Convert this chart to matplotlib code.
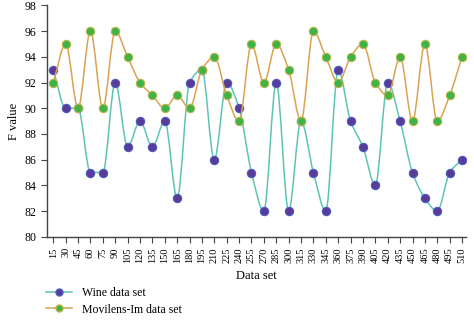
import matplotlib
matplotlib.use("Agg")
import matplotlib.pyplot as plt
from matplotlib.path import Path
from matplotlib.patches import PathPatch
from matplotlib.lines import Line2D
import numpy as np

plt.rcParams['font.family'] = ['Liberation Serif', 'DejaVu Serif']

data_sets = [15, 30, 45, 60, 75, 90, 105, 120, 135, 150, 165, 180, 195, 210, 225, 240, 255,
             270, 285, 300, 315, 330, 345, 360, 375, 390, 405, 420, 435, 450, 465, 480, 495, 510]
wine = [93, 90, 90, 85, 85, 92, 87, 89, 87, 89, 83, 92, 93, 86, 92, 90, 85,
        82, 92, 82, 89, 85, 82, 93, 89, 87, 84, 92, 89, 85, 83, 82, 85, 86]
movilens = [92, 95, 90, 96, 90, 96, 94, 92, 91, 90, 91, 90, 93, 94, 91, 89, 95,
            92, 95, 93, 89, 96, 94, 92, 94, 95, 92, 91, 94, 89, 95, 89, 91, 94]


def smooth_path(x, y):
    # monotone cubic (fritsch-carlson) drawn as bezier segments
    x = np.asarray(x, float)
    y = np.asarray(y, float)
    h = np.diff(x)
    d = np.diff(y) / h
    m = np.zeros_like(y)
    m[0], m[-1] = d[0], d[-1]
    for i in range(1, len(x) - 1):
        if d[i - 1] * d[i] > 0:
            m[i] = 2 / (1 / d[i - 1] + 1 / d[i])
    verts = [(x[0], y[0])]
    codes = [Path.MOVETO]
    for i in range(len(x) - 1):
        verts += [(x[i] + h[i] / 3, y[i] + m[i] * h[i] / 3),
                  (x[i + 1] - h[i] / 3, y[i + 1] - m[i + 1] * h[i] / 3),
                  (x[i + 1], y[i + 1])]
        codes += [Path.CURVE4] * 3
    return Path(verts, codes)


wine_line = '#5ec4b4'
wine_face = '#5b3b98'
wine_edge = '#4a5cc0'
mov_line = '#d9a352'
mov_face = '#3cb44a'
mov_edge = '#b9b446'

fig = plt.figure(figsize=(4.74, 3.23), dpi=100)
ax = fig.add_axes([0.0985, 0.267, 0.885, 0.716])

ax.add_patch(PathPatch(smooth_path(data_sets, wine), facecolor='none', edgecolor=wine_line, lw=1.1, zorder=2))
ax.plot(data_sets, wine, 'o', ms=6, mfc=wine_face, mec=wine_edge, mew=0.8, zorder=3)
ax.add_patch(PathPatch(smooth_path(data_sets, movilens), facecolor='none', edgecolor=mov_line, lw=1.1, zorder=4))
ax.plot(data_sets, movilens, 'o', ms=6, mfc=mov_face, mec=mov_edge, mew=0.8, zorder=5)

ax.set_xlim(7, 515)
ax.set_ylim(80, 98)
ax.set_xticks(data_sets)
ax.set_xticklabels([str(v) for v in data_sets], rotation=90, fontsize=7.5)
ax.set_yticks(range(80, 99, 2))
ax.tick_params(axis='y', labelsize=8.5, length=4, color='#444444')
ax.tick_params(axis='x', length=4, color='#444444')
for s in ['top', 'right']:
    ax.spines[s].set_visible(False)
for s in ['left', 'bottom']:
    ax.spines[s].set_color('#444444')
    ax.spines[s].set_linewidth(1.0)

ax.set_xlabel('Data set', fontsize=9, labelpad=5)
ax.set_ylabel('F value', fontsize=9, labelpad=3)

handles = [
    Line2D([], [], color=wine_line, lw=1.1, marker='o', ms=5, mfc=wine_face, mec=wine_edge),
    Line2D([], [], color=mov_line, lw=1.1, marker='o', ms=5, mfc=mov_face, mec=mov_edge),
]
fig.legend(handles, ['Wine data set', 'Movilens-Im data set'], loc='lower left',
           bbox_to_anchor=(0.075, -0.01), frameon=False, fontsize=8.5,
           handlelength=2.2, labelspacing=0.35)

fig.savefig('out.png', dpi=100)
